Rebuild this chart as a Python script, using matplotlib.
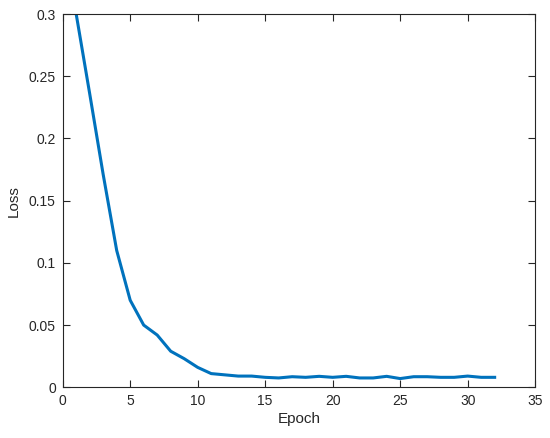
import matplotlib
matplotlib.use("Agg")
import matplotlib.pyplot as plt

epochs = list(range(1, 33))
loss = [0.300, 0.236, 0.171, 0.110, 0.070, 0.050, 0.042, 0.029, 0.023, 0.016,
        0.011, 0.010, 0.009, 0.009, 0.008, 0.0075, 0.0085, 0.008, 0.0088, 0.008,
        0.0088, 0.0075, 0.0075, 0.0088, 0.007, 0.0085, 0.0085, 0.008, 0.008, 0.009,
        0.008, 0.008]
xticks = [0, 5, 10, 15, 20, 25, 30, 35]
yticks = [0, 0.05, 0.1, 0.15, 0.2, 0.25, 0.3]
ytick_labels = ["0", "0.05", "0.1", "0.15", "0.2", "0.25", "0.3"]

plt.rcParams['font.family'] = ['Liberation Sans', 'DejaVu Sans']

fig = plt.figure(figsize=(5.5, 4.38), dpi=100)
ax = fig.add_axes([0.114, 0.1158, 0.859, 0.852])
ax.plot(epochs, loss, color='#0072BD', linewidth=2.2, solid_joinstyle='round')
ax.set_xlim(0, 35)
ax.set_ylim(0, 0.3)
ax.set_xticks(xticks)
ax.set_xticklabels([str(t) for t in xticks])
ax.set_yticks(yticks)
ax.set_yticklabels(ytick_labels)
for s in ax.spines.values():
    s.set_color('#262626')
    s.set_linewidth(0.8)
ax.tick_params(direction='in', length=5, width=0.8, colors='#262626',
               labelsize=10, top=True, right=True, pad=5)
ax.set_xlabel('Epoch', fontsize=11, color='#262626', labelpad=3)
ax.set_ylabel('Loss', fontsize=11, color='#262626', labelpad=6)
fig.savefig('out.png', dpi=100)
